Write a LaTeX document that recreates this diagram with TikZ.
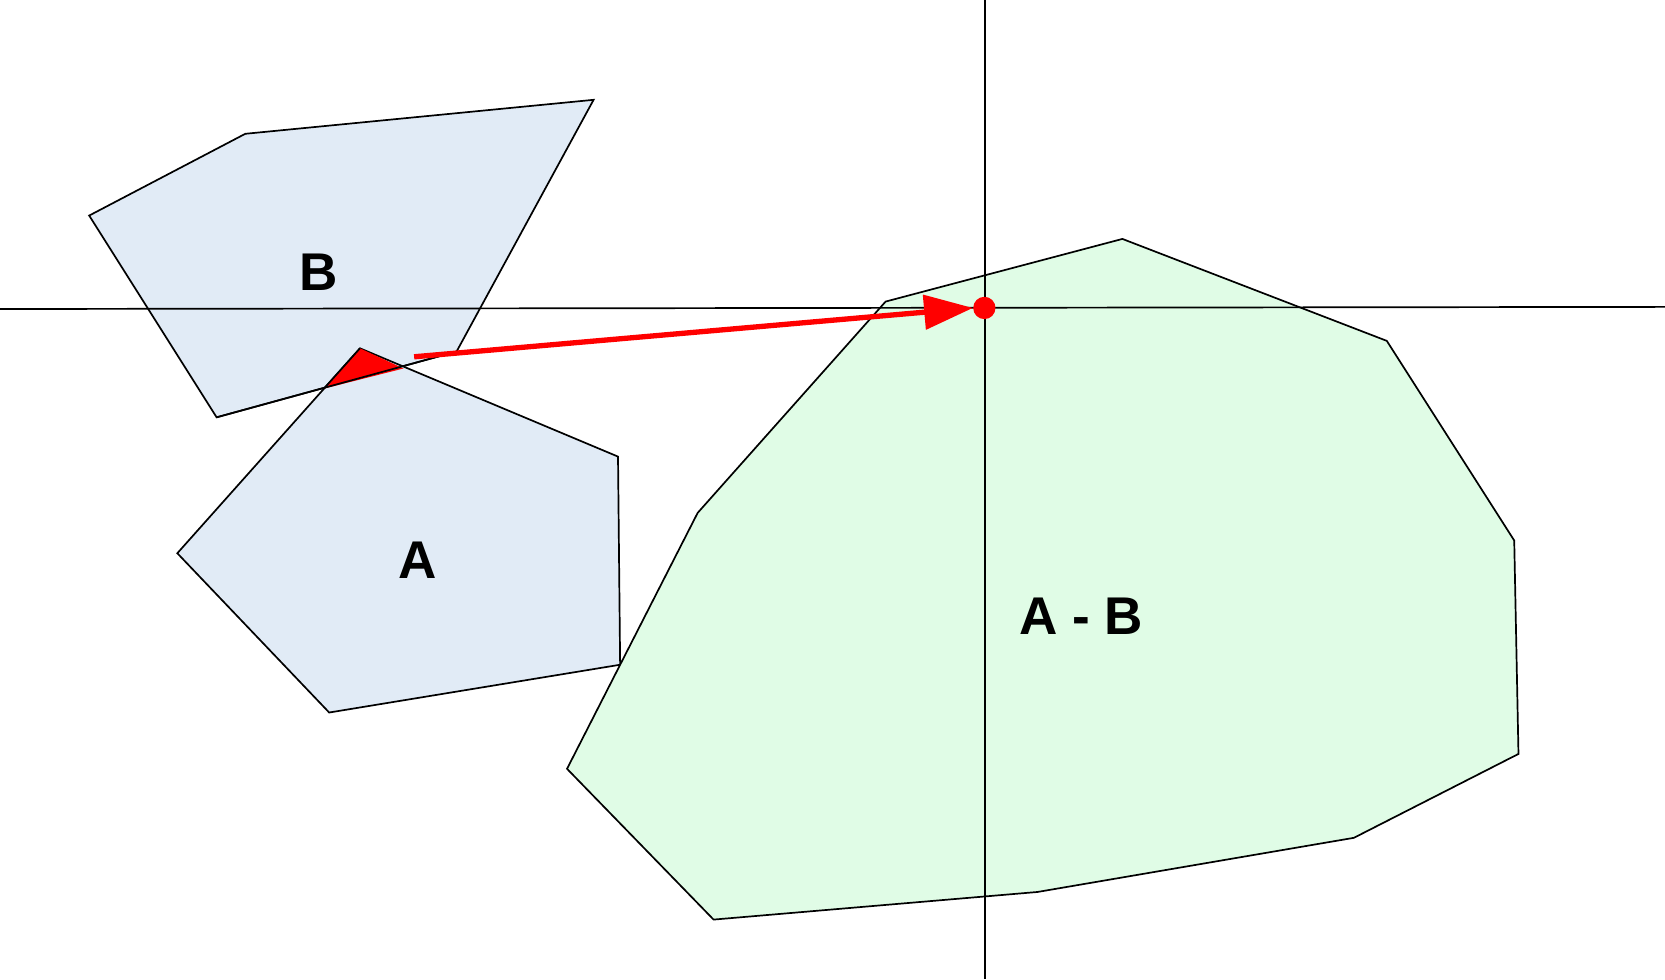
\documentclass[tikz,border=0pt]{standalone}
\usepackage{fontspec}
\setmainfont{Liberation Sans}
\usetikzlibrary{arrows.meta}
\definecolor{polyblue}{HTML}{E1EBF6}
\definecolor{polygreen}{HTML}{E0FCE6}
\begin{document}
\begin{tikzpicture}[x=1pt,y=-1pt,
  poly/.style={draw=black,line width=1.6pt,line join=miter},
  lbl/.style={font=\bfseries\fontsize{50}{56}\selectfont}]
\useasboundingbox (0,0) rectangle (1568,922);
\draw[poly,fill=polyblue] (84,203)--(231,126)--(559,94)--(430,331)--(204,393)--cycle;
\draw[poly,fill=polyblue] (339,328)--(582,430)--(584,626)--(310,671)--(167,521)--cycle;
\fill[red] (339,328)--(305,366)--(380,347)--cycle;
\draw[line width=1.6pt] (430,331)--(204,393);
\draw[line width=1.6pt] (339,328)--(305,366);
\draw[poly,fill=polygreen] (834,284)--(1057,225)--(1306,321)--(1426,509)--(1430,710)--(1275,789)--(977,840)--(672,866)--(534,724)--(657,483)--cycle;
\draw[line width=1.6pt] (0,291)--(1568,289);
\draw[line width=1.6pt] (927.5,0)--(927.5,922);
\coordinate (s) at (390,336);
\node[circle,fill=red,inner sep=0pt,minimum size=21pt] (dot) at (927,290) {};
\draw[red,line width=5pt,-{Triangle[length=46pt,width=32pt]}] (s)--(dot.west);
\node[lbl] (b) at (300,256) {B};
\node[lbl] (a) at (393,528) {A};
\node[lbl] (ab) at (1018,580) {A - B};
\end{tikzpicture}
\end{document}
